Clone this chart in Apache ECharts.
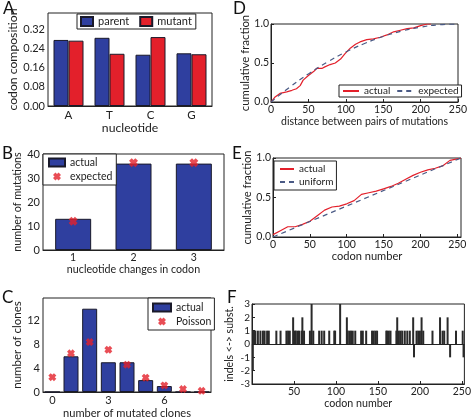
<!DOCTYPE html>
<html>
<head>
<meta charset="utf-8">
<script src="https://cdn.jsdelivr.net/npm/echarts@6/dist/echarts.min.js"></script>
<style>html,body{margin:0;padding:0;background:#fff}#chart{width:474px;height:420px}</style>
</head>
<body>
<div id="chart"></div>
<script>
// A - codon composition
const nucleotides = ['A', 'T', 'C', 'G']
const parentComp = [0.277, 0.286, 0.215, 0.221]
const mutantComp = [0.274, 0.219, 0.289, 0.217]
// B - nucleotide changes per codon
const changeCats = ['1', '2', '3']
const actualMut = [13, 36, 36]
const expectedMut = [12, 36.4, 36.4]
// C - mutated clones
const cloneCats = ['0', '1', '2', '3', '4', '5', '6', '7', '8']
const actualClones = [0, 6, 14, 5, 5, 2, 1, 0, 0]
const poissonClones = [2.5, 6.5, 8.4, 7.1, 4.6, 2.4, 1.1, 0.5, 0.2]
// D - distance between pairs
const distX = [0, 5, 12, 21, 28, 34, 39, 43, 50, 57, 61, 68, 72, 79, 86, 93, 99, 106, 113, 119, 128, 137, 146, 155, 164, 173, 182, 191, 200, 209, 214]
const distActual = [0, 0.06, 0.11, 0.13, 0.15, 0.17, 0.21, 0.28, 0.34, 0.39, 0.43, 0.43, 0.45, 0.48, 0.50, 0.55, 0.62, 0.69, 0.74, 0.77, 0.80, 0.81, 0.83, 0.86, 0.90, 0.92, 0.94, 0.95, 0.98, 1.0, 1.0]
const distExpX = [0, 25, 50, 75, 100, 125, 150, 175, 200, 225, 250]
const distExpected = [0, 0.19, 0.36, 0.51, 0.64, 0.75, 0.84, 0.91, 0.96, 0.99, 1.0]
// E - codon position cumulative
const codonX = [0, 10, 20, 30, 40, 50, 60, 70, 80, 90, 100, 110, 120, 130, 140, 150, 160, 170, 180, 190, 200, 210, 220, 230, 240, 250, 255]
const codonActual = [0.03, 0.08, 0.13, 0.13, 0.16, 0.20, 0.27, 0.34, 0.38, 0.39, 0.42, 0.46, 0.54, 0.56, 0.58, 0.61, 0.64, 0.68, 0.73, 0.78, 0.82, 0.85, 0.87, 0.90, 0.97, 0.99, 1.0]
const uniformX = [0, 255]
const uniformY = [0, 1]
// F - indels <-> substitutions per codon
const fCodon = [1, 2, 3, 4, 7, 10, 13, 15, 18, 20, 29, 34, 41, 43, 45, 49, 51, 52, 54, 56, 59, 60, 62, 69, 71, 73, 80, 83, 86, 92, 98, 99, 105, 113, 114, 116, 118, 120, 123, 130, 132, 136, 143, 145, 147, 149, 160, 161, 163, 165, 172, 173, 175, 177, 179, 182, 185, 188, 192, 193, 196, 198, 200, 202, 204, 215, 224, 227, 229, 233, 236, 243, 251, 252]
const fValue = [-2, 1, 1, 1, 1, 1, 1, 1, 1, 1, 1, 1, 1, 1, 1, 2, 1, 1, 1, 1, 1, 2, 1, 1, 3, 1, 1, 1, 1, 1, 1, 1, 3, 2, 1, 1, 1, 1, 1, 1, 1, 1, 1, 1, 1, 1, 1, 1, 1, 1, 1, 2, 1, 1, 1, 1, 1, 1, 2, -1, 1, 1, 1, 2, 1, 1, 2, 1, 1, 2, -1, 1, 1, -1]

const FONT = 'Lato'
const INK = '#222'
const BLUE = '#2f3f9f'
const RED = '#e3202b'
const DASH = '#4a5a85'
const XMARK = 'path://M0,3L3,0L5,2L7,0L10,3L8,5L10,7L7,10L5,8L3,10L0,7L2,5Z'

const pairs = (xs, ys) => xs.map((x, i) => [x, ys[i]])
const txt = size => ({ color: INK, fontSize: size, fontFamily: FONT })

function grid(left, top, width, height) {
  return { left, top, width, height, show: true, borderColor: INK, borderWidth: 1, backgroundColor: 'transparent' }
}

function axis(type, gridIndex, name, nameSize, nameGap, more, label) {
  return Object.assign({
    type,
    gridIndex,
    name,
    nameLocation: 'middle',
    nameGap,
    nameTextStyle: txt(nameSize),
    axisLine: { onZero: false, lineStyle: { color: INK, width: 1 } },
    axisTick: { inside: true, length: 3, alignWithLabel: true, lineStyle: { color: INK } },
    axisLabel: Object.assign(txt(10.5), { margin: 2 }, label),
    splitLine: { show: false }
  }, more)
}

// line legend entries: hide the symbol the line series adds
const lineItem = name => ({ name, itemStyle: { opacity: 0, color: 'transparent', borderWidth: 0 } })
const rectItem = name => ({ name, icon: 'rect' })

function legend(names, labels, pos, more) {
  return Object.assign({
    data: names,
    formatter: n => labels[names.findIndex(d => (d.name || d) === n)],
    borderColor: INK,
    borderWidth: 1,
    borderRadius: 0,
    backgroundColor: '#fff',
    textStyle: txt(10.5),
    selectedMode: false
  }, pos, more)
}

const barStyle = color => ({ color, borderColor: '#1a1a2a', borderWidth: 1 })

const chart = echarts.init(document.getElementById('chart'), null, { renderer: 'canvas' })
chart.setOption({
  animation: false,
  textStyle: { fontFamily: FONT },
  grid: [
    grid(48, 13, 164, 93),
    grid(43, 154, 181, 96),
    grid(43, 298, 168, 95),
    grid(271, 24, 187, 78),
    grid(273, 158, 188, 79),
    grid(252, 304, 216, 80)
  ],
  xAxis: [
    axis('category', 0, 'nucleotide', 12.2, 15, { data: nucleotides }, { fontSize: 11.5, margin: 3 }),
    axis('category', 1, 'nucleotide changes in codon', 10.7, 11, { data: changeCats }, { fontSize: 10.5 }),
    axis('category', 2, 'number of mutated clones', 11.1, 16, {
      data: cloneCats,
      axisTick: { inside: true, length: 3, alignWithLabel: true, interval: i => i % 3 === 0, lineStyle: { color: INK } }
    }, { fontSize: 11, margin: 3, interval: i => i % 3 === 0 }),
    axis('value', 3, 'distance between pairs of mutations', 10.5, 12, { min: 0, max: 250, interval: 50 }),
    axis('value', 4, 'codon number', 11.1, 13, { min: 0, max: 255, interval: 50 }, { showMaxLabel: false }),
    axis('value', 5, 'codon number', 10.7, 12, { min: 0, max: 253, interval: 50 }, { showMinLabel: false, showMaxLabel: false })
  ],
  yAxis: [
    axis('value', 0, 'codon composition', 12.2, 27, { min: 0, max: 0.39, interval: 0.08 },
      { fontSize: 11, margin: 3, showMaxLabel: false, formatter: v => v.toFixed(2) }),
    axis('value', 1, 'number of mutations', 10.8, 20, { min: 0, max: 40, interval: 10 }, { fontSize: 11, margin: 3 }),
    axis('value', 2, 'number of clones', 11.5, 20, { min: 0, max: 15.8, interval: 4 }, { fontSize: 11, margin: 3, showMaxLabel: false }),
    axis('value', 3, 'cumulative fraction', 11.4, 15, { min: 0, max: 1, interval: 0.5 }, { formatter: v => v.toFixed(1) }),
    axis('value', 4, 'cumulative fraction', 11.1, 17, { min: 0, max: 1, interval: 0.5 }, { formatter: v => v.toFixed(1) }),
    axis('value', 5, 'indels <-> subst.', 10.5, 17, { min: -3, max: 3, interval: 1 }, { fontSize: 10 })
  ],
  legend: [
    legend(['A|parent', 'A|mutant'], ['parent', 'mutant'], { left: 77, top: 14 }, {
      orient: 'horizontal', icon: 'rect', itemWidth: 12, itemHeight: 9, itemGap: 10, padding: [2, 4, 2, 3],
      textStyle: txt(11)
    }),
    legend([rectItem('B|actual'), 'B|expected'], ['actual', 'expected'], { left: 43, top: 154 }, {
      orient: 'vertical', itemWidth: 16, itemHeight: 8, itemGap: 3, padding: [3, 4, 3, 5]
    }),
    legend([rectItem('C|actual'), 'C|Poisson'], ['actual', 'Poisson'], { left: 148, top: 298 }, {
      orient: 'vertical', itemWidth: 18, itemHeight: 8, itemGap: 3, padding: [4, 3, 3, 4]
    }),
    legend([lineItem('D|actual'), lineItem('D|expected')], ['actual', 'expected'], { left: 339, top: 85 }, {
      orient: 'horizontal', itemWidth: 16, itemHeight: 8, itemGap: 6, padding: [1, 3, 1, 3],
      textStyle: txt(10)
    }),
    legend([lineItem('E|actual'), lineItem('E|uniform')], ['actual', 'uniform'], { left: 274, top: 161 }, {
      orient: 'vertical', itemWidth: 14, itemHeight: 8, itemGap: 3, padding: [3, 3, 3, 5],
      textStyle: txt(10)
    })
  ],
  series: [
    { name: 'A|parent', type: 'bar', xAxisIndex: 0, yAxisIndex: 0, data: parentComp, barWidth: 15, barGap: '0%', itemStyle: barStyle(BLUE) },
    { name: 'A|mutant', type: 'bar', xAxisIndex: 0, yAxisIndex: 0, data: mutantComp, barWidth: 15, barGap: '0%', itemStyle: barStyle(RED) },
    { name: 'B|actual', type: 'bar', xAxisIndex: 1, yAxisIndex: 1, data: actualMut, barWidth: 36, itemStyle: barStyle(BLUE) },
    { name: 'B|expected', type: 'scatter', xAxisIndex: 1, yAxisIndex: 1, data: expectedMut, symbol: XMARK, symbolSize: 9, itemStyle: { color: RED } },
    { name: 'C|actual', type: 'bar', xAxisIndex: 2, yAxisIndex: 2, data: actualClones, barWidth: 15, itemStyle: barStyle(BLUE) },
    { name: 'C|Poisson', type: 'scatter', xAxisIndex: 2, yAxisIndex: 2, data: poissonClones, symbol: XMARK, symbolSize: 8, itemStyle: { color: RED } },
    { name: 'D|actual', type: 'line', xAxisIndex: 3, yAxisIndex: 3, data: pairs(distX, distActual), symbol: 'none', lineStyle: { color: RED, width: 1.2 }, itemStyle: { color: RED } },
    { name: 'D|expected', type: 'line', xAxisIndex: 3, yAxisIndex: 3, data: pairs(distExpX, distExpected), smooth: true, symbol: 'none', lineStyle: { color: DASH, width: 1.2, type: [5, 4] }, itemStyle: { color: DASH } },
    { name: 'E|actual', type: 'line', xAxisIndex: 4, yAxisIndex: 4, data: pairs(codonX, codonActual), symbol: 'none', lineStyle: { color: RED, width: 1.2 }, itemStyle: { color: RED } },
    { name: 'E|uniform', type: 'line', xAxisIndex: 4, yAxisIndex: 4, data: pairs(uniformX, uniformY), symbol: 'none', lineStyle: { color: DASH, width: 1.2, type: [5, 4] }, itemStyle: { color: DASH } },
    {
      name: 'F|indels', type: 'bar', xAxisIndex: 5, yAxisIndex: 5, data: pairs(fCodon, fValue), barWidth: 2,
      itemStyle: { color: '#2a2a2a' },
      markLine: { silent: true, symbol: 'none', label: { show: false }, lineStyle: { color: INK, width: 1, type: 'solid' }, data: [{ yAxis: 0 }] }
    }
  ],
  graphic: [
    { type: 'text', left: 3, top: 0, style: { text: 'A', fontSize: 17, fontFamily: FONT, fill: '#111' } },
    { type: 'text', left: 2, top: 145, style: { text: 'B', fontSize: 17, fontFamily: FONT, fill: '#111' } },
    { type: 'text', left: 2, top: 289, style: { text: 'C', fontSize: 17, fontFamily: FONT, fill: '#111' } },
    { type: 'text', left: 233, top: 0, style: { text: 'D', fontSize: 17, fontFamily: FONT, fill: '#111' } },
    { type: 'text', left: 232, top: 145, style: { text: 'E', fontSize: 17, fontFamily: FONT, fill: '#111' } },
    { type: 'text', left: 227, top: 289, style: { text: 'F', fontSize: 17, fontFamily: FONT, fill: '#111' } }
  ]
})
</script>
</body>
</html>
